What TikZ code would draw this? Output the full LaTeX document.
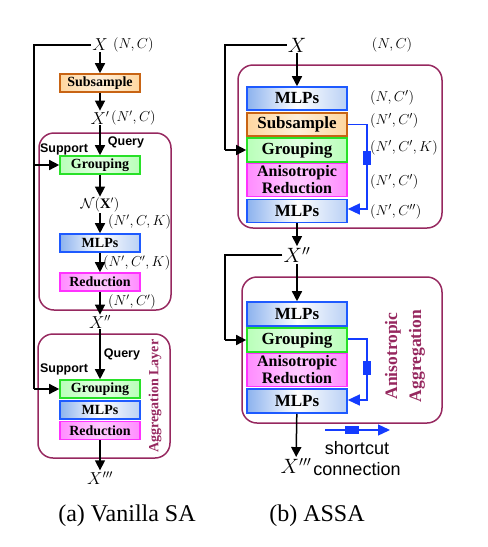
\documentclass[tikz,border=0pt]{standalone}
\usepackage{fontspec}
\setmainfont{Liberation Serif}[BoldFont={Liberation Serif Bold}]
\newfontfamily\rmf{Liberation Serif}[BoldFont={Liberation Serif Bold}]
\newfontfamily\sansf{Liberation Sans}
\usetikzlibrary{arrows.meta}
\definecolor{frame}{RGB}{150,40,95}
\definecolor{subB}{RGB}{200,100,20}
\definecolor{subF}{RGB}{255,215,160}
\definecolor{grpB}{RGB}{40,225,40}
\definecolor{grpF}{RGB}{185,255,185}
\definecolor{mlpB}{RGB}{30,90,255}
\definecolor{mlpF}{RGB}{140,178,238}
\definecolor{redB}{RGB}{255,50,255}
\definecolor{redF}{RGB}{255,140,255}
\definecolor{scblue}{RGB}{20,60,255}
\tikzset{
  blk/.style={draw, line width=1.6pt, inner sep=0pt},
  lsub/.style={blk, draw=subB, left color=subF, right color=subF, middle color=subF!40},
  lgrp/.style={blk, draw=grpB, left color=grpF, right color=grpF, middle color=grpF!40},
  lmlp/.style={blk, draw=mlpB, left color=mlpF, right color=mlpF!60, middle color=white},
  lred/.style={blk, draw=redB, left color=redF, right color=redF, middle color=redF!45},
  sblk/.style={minimum width=80pt, minimum height=18pt, font=\rmf\bfseries\fontsize{14}{14}\selectfont},
  bblk/.style={minimum width=100pt, minimum height=23pt, font=\rmf\bfseries\fontsize{17}{17}\selectfont},
  grp/.style={draw=frame, line width=1.5pt, rounded corners=15pt},
  arr/.style={line width=1.5pt, -{Triangle[length=10pt,width=10pt]}},
  ln/.style={line width=1.5pt},
  sc/.style={draw=scblue, line width=1.3pt, -{Triangle[length=12pt,width=11pt]}},
  mk/.style={fill=scblue, minimum width=8pt, minimum height=14pt, inner sep=0pt},
  mlab/.style={inner sep=0pt, font=\fontsize{14.5}{14.5}\selectfont},
  sl/.style={inner sep=0pt, font=\sansf\bfseries\fontsize{12.5}{12.5}\selectfont},
  captxt/.style={inner sep=0pt, font=\rmf\fontsize{24}{24}\selectfont},
  vlab/.style={inner sep=0pt, text=frame, rotate=90, align=center},
}
\begin{document}
\begin{tikzpicture}[x=1pt,y=-1pt]
\useasboundingbox (0,0) rectangle (488,547);
% ---------------- left panel ----------------
\draw[grp] (39,133) rectangle (171,310);
\draw[grp] (38,334) rectangle (170,458);
\node[inner sep=1pt, font=\fontsize{18}{18}\selectfont] (X1) at (100,45) {$X$};
\node[mlab, anchor=west] (nc1) at (113,45) {$(N,C)$};
\node[lsub, sblk] (sub1) at (100,83) {Subsample};
\node[inner sep=1pt, font=\fontsize{16}{16}\selectfont] (Xp) at (100,118) {$X'$};
\node[mlab, anchor=west] (npc1) at (111,118) {$(N',C)$};
\node[sl] (q1) at (126,142) {Query};
\node[sl] (s1) at (64,149) {Support};
\node[lgrp, sblk] (g1) at (100,165) {Grouping};
\node[mlab, inner sep=1pt] (nx) at (100,205) {$\mathcal{N}(\mathbf{X}')$};
\node[mlab, anchor=west] (nck) at (108,222) {$(N',C,K)$};
\node[lmlp, sblk] (m1) at (100,243) {MLPs};
\node[mlab, anchor=west] (ncpk) at (103,263) {$(N',C',K)$};
\node[lred, sblk] (r1) at (100,282) {Reduction};
\node[mlab, anchor=west] (ncp) at (108,302) {$(N',C')$};
\node[inner sep=1pt, font=\fontsize{16}{16}\selectfont] (Xpp) at (100,322) {$X''$};
\node[sl] (q2) at (122,354) {Query};
\node[sl] (s2) at (64,369) {Support};
\node[lgrp, sblk] (g2) at (100,389) {Grouping};
\node[lmlp, sblk] (m2) at (100,410) {MLPs};
\node[lred, sblk] (r2) at (100,430.5) {Reduction};
\node[vlab, font=\rmf\bfseries\fontsize{14}{14}\selectfont] (agl) at (155,396) {Aggregation Layer};
\node[inner sep=1pt, font=\fontsize{18}{18}\selectfont] (Xppp) at (100,478) {$X'''$};
\draw[arr] (X1) -- (sub1);
\draw[arr] (sub1) -- (Xp);
\draw[arr] (Xp) -- (g1);
\draw[arr] (g1) -- (nx);
\draw[arr] (nx) -- (m1);
\draw[arr] (m1) -- (r1);
\draw[arr] (r1) -- (Xpp);
\draw[arr] (Xpp) -- (g2);
\draw[arr] (r2) -- (Xppp);
\coordinate (lc1) at (34,45);
\coordinate (lc2) at (34,165);
\coordinate (lc3) at (34,389);
\draw[ln] (X1.west) -- (lc1) -- (lc3);
\draw[arr] (lc2) -- (g1.west);
\draw[arr] (lc3) -- (g2.west);
% ---------------- right panel ----------------
\draw[grp] (238,65) rectangle (442,228);
\draw[grp] (242,277) rectangle (442,423);
\node[inner sep=1pt, font=\fontsize{22}{22}\selectfont] (X2) at (297,45) {$X$};
\node[mlab, font=\fontsize{15}{15}\selectfont] (nc2) at (392,45) {$(N,C)$};
\node[lmlp, bblk] (m3) at (297,98.5) {MLPs};
\node[lsub, bblk] (s3) at (297,124.5) {Subsample};
\node[lgrp, bblk, minimum height=24pt] (g3) at (297,150) {Grouping};
\node[lred, bblk, minimum height=33pt, align=center, font=\rmf\bfseries\fontsize{16}{17}\selectfont] (ar3) at (297,180) {Anisotropic\\Reduction};
\node[lmlp, bblk] (m4) at (297,211) {MLPs};
\node[mlab, font=\fontsize{15}{15}\selectfont, anchor=west] (l1) at (370,98) {$(N,C')$};
\node[mlab, font=\fontsize{15}{15}\selectfont, anchor=west] (l2) at (370,121) {$(N',C')$};
\node[mlab, font=\fontsize{15}{15}\selectfont, anchor=west] (l3) at (370,148) {$(N',C',K)$};
\node[mlab, font=\fontsize{15}{15}\selectfont, anchor=west] (l4) at (370,182) {$(N',C')$};
\node[mlab, font=\fontsize{15}{15}\selectfont, anchor=west] (l5) at (370,212) {$(N',C'')$};
\coordinate (sa1) at (367,124.5);
\coordinate (sa2) at (367,209);
\draw[sc] (s3.east) -- (sa1) -- (sa2) -- (m4.east |- sa2);
\node[mk] (mk1) at (367,158) {};
\node[inner sep=1pt, font=\fontsize{20}{20}\selectfont] (X2pp) at (297,255) {$X''$};
\draw[arr] (X2) -- (m3);
\draw[arr] (m4) -- (X2pp);
\coordinate (rc1) at (225,45);
\coordinate (rc2) at (225,150);
\draw[ln] (X2.west) -- (rc1) -- (rc2);
\draw[arr] (rc2) -- (g3.west);
\node[lmlp, bblk, minimum height=24pt] (m5) at (297,314) {MLPs};
\node[lgrp, bblk, minimum height=24pt] (g5) at (297,340) {Grouping};
\node[lred, bblk, minimum height=33pt, align=center, font=\rmf\bfseries\fontsize{16}{17}\selectfont] (ar5) at (297,370) {Anisotropic\\Reduction};
\node[lmlp, bblk, minimum height=24pt] (m6) at (297,401) {MLPs};
\coordinate (sb1) at (367,339);
\coordinate (sb2) at (367,400);
\draw[sc] (g5.east |- sb1) -- (sb1) -- (sb2) -- (m6.east |- sb2);
\node[mk] (mk2) at (367,368) {};
\draw[arr] (X2pp) -- (m5);
\coordinate (rd1) at (225,255);
\coordinate (rd2) at (225,340);
\draw[ln] (X2pp.west) -- (rd1) -- (rd2);
\draw[arr] (rd2) -- (g5.west);
\node[vlab, font=\rmf\bfseries\fontsize{17.5}{24}\selectfont] (aag) at (405,356) {Anisotropic\\Aggregation};
\node[inner sep=1pt, font=\fontsize{22}{22}\selectfont] (X2ppp) at (296,466) {$X'''$};
\draw[arr] (m6) -- (X2ppp);
\coordinate (lg1) at (325,430);
\coordinate (lg2) at (390,430);
\draw[sc] (lg1) -- (lg2);
\node[mk, minimum width=14pt, minimum height=8pt] (mk3) at (352,430) {};
\node[inner sep=0pt, font=\sansf\fontsize{18}{18}\selectfont] (t1) at (357,448) {shortcut};
\node[inner sep=0pt, font=\sansf\fontsize{18}{18}\selectfont] (t2) at (357,469) {connection};
% captions
\node[captxt] (ca) at (127,516) {(a) Vanilla SA};
\node[captxt] (cb) at (317,516) {(b) ASSA};
\end{tikzpicture}
\end{document}
